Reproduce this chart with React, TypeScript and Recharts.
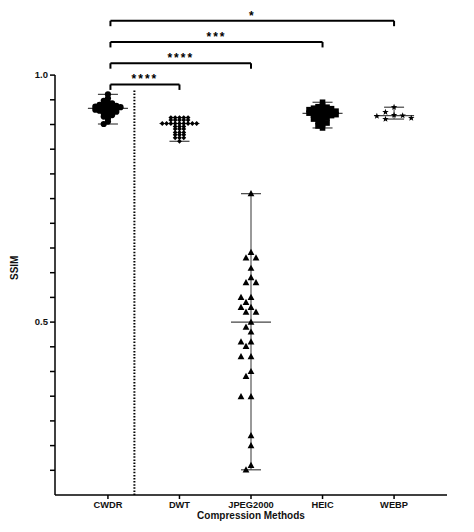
import {
  Label,
  ReferenceDot,
  ReferenceLine,
  Scatter,
  ScatterChart,
  XAxis,
  YAxis,
} from "recharts";

const categories = ["CWDR", "DWT", "JPEG2000", "HEIC", "WEBP"];

// SSIM per image
const cwdr = [
  0.961, 0.953, 0.948, 0.945, 0.943, 0.941, 0.94, 0.939, 0.938, 0.937, 0.936, 0.935, 0.935,
  0.934, 0.933, 0.932, 0.931, 0.93, 0.929, 0.928, 0.927, 0.926, 0.925, 0.923, 0.921, 0.919,
  0.916, 0.912, 0.906, 0.901,
];
const dwt = [
  0.914, 0.914, 0.914, 0.914, 0.914, 0.909, 0.909, 0.909, 0.909, 0.909, 0.902, 0.902, 0.902,
  0.902, 0.902, 0.902, 0.902, 0.902, 0.902, 0.896, 0.896, 0.896, 0.891, 0.891, 0.891, 0.884,
  0.884, 0.884, 0.879, 0.879, 0.879, 0.873, 0.873, 0.873, 0.866,
];
const jpeg2000 = [
  0.76, 0.641, 0.63, 0.63, 0.609, 0.59, 0.58, 0.58, 0.55, 0.55, 0.54, 0.53, 0.53, 0.52, 0.52,
  0.5, 0.49, 0.48, 0.46, 0.46, 0.451, 0.43, 0.43, 0.4, 0.39, 0.349, 0.349, 0.27, 0.25, 0.21,
  0.201,
];
const heic = [
  0.945, 0.938, 0.936, 0.935, 0.933, 0.932, 0.931, 0.93, 0.929, 0.928, 0.927, 0.926, 0.925,
  0.924, 0.923, 0.922, 0.921, 0.92, 0.919, 0.918, 0.917, 0.915, 0.913, 0.911, 0.909, 0.906,
  0.903, 0.9, 0.897, 0.893,
];
const webp = [0.935, 0.925, 0.919, 0.918, 0.917, 0.913, 0.911];

const yTicks = [
  0.2, 0.25, 0.3, 0.35, 0.4, 0.45, 0.5, 0.55, 0.6, 0.65, 0.7, 0.75, 0.8, 0.85, 0.9, 0.95, 1.0,
];
const yLabelled = [0.5, 1.0];

// significance brackets, all against CWDR
const bracketTargets = [1, 2, 3, 4];
const bracketStars = ["****", "****", "***", "*"];

const W = 474;
const H = 532;
const X_DOMAIN: [number, number] = [-0.74, 4.74];
const Y_DOMAIN: [number, number] = [0.15, 1.15];
const X_PX = 392 / (X_DOMAIN[1] - X_DOMAIN[0]);
const Y_PX = 494 / (Y_DOMAIN[1] - Y_DOMAIN[0]);
const FONT = "'Liberation Sans', Arial, sans-serif";

type Kind = "circle" | "diamond" | "triangle" | "square" | "star";

const groups: { values: number[]; kind: Kind; step: number; minDist: number }[] = [
  { values: cwdr, kind: "circle", step: 4.2, minDist: 2.9 },
  { values: dwt, kind: "diamond", step: 4.3, minDist: 2.2 },
  { values: jpeg2000, kind: "triangle", step: 5, minDist: 6 },
  { values: heic, kind: "square", step: 4.5, minDist: 3.2 },
  { values: webp, kind: "star", step: 8.6, minDist: 6 },
];

// simple beeswarm: each point takes the nearest free horizontal slot
function swarm(values: number[], center: number, step: number, minDist: number) {
  const placed: { dx: number; y: number }[] = [];
  const out: { x: number; y: number }[] = [];
  [...values]
    .sort((a, b) => b - a)
    .forEach((v) => {
      const y = v * Y_PX;
      for (let i = 0; i < 40; i++) {
        const k = i === 0 ? 0 : i % 2 === 1 ? -(i + 1) / 2 : i / 2;
        const dx = k * step;
        const free = placed.every((p) => (p.dx - dx) ** 2 + (p.y - y) ** 2 >= minDist ** 2);
        if (free) {
          placed.push({ dx, y });
          out.push({ x: center + dx / X_PX, y: v });
          break;
        }
      }
    });
  return out;
}

function median(values: number[]) {
  const s = [...values].sort((a, b) => a - b);
  const m = Math.floor(s.length / 2);
  return s.length % 2 ? s[m] : (s[m - 1] + s[m]) / 2;
}

function marker(kind: Kind) {
  return (props: any) => {
    const { cx, cy } = props;
    if (cx == null || cy == null) return <g />;
    if (kind === "circle") return <circle cx={cx} cy={cy} r={3.1} fill="#000" />;
    if (kind === "diamond")
      return (
        <polygon
          points={`${cx},${cy - 2.4} ${cx + 2.4},${cy} ${cx},${cy + 2.4} ${cx - 2.4},${cy}`}
          fill="#000"
        />
      );
    if (kind === "triangle")
      return (
        <polygon
          points={`${cx},${cy - 3.6} ${cx + 3.4},${cy + 2.6} ${cx - 3.4},${cy + 2.6}`}
          fill="#000"
        />
      );
    if (kind === "square")
      return <rect x={cx - 2.8} y={cy - 2.8} width={5.6} height={5.6} fill="#000" />;
    const pts: string[] = [];
    for (let i = 0; i < 10; i++) {
      const r = i % 2 ? 1.4 : 3.4;
      const a = (Math.PI / 5) * i - Math.PI / 2;
      pts.push(`${cx + r * Math.cos(a)},${cy + r * Math.sin(a)}`);
    }
    return <polygon points={pts.join(" ")} fill="#000" />;
  };
}

const CAP = 0.14;
const MED = 0.28;

export default function App() {
  const bracketBase = 0.981;
  const bracketGap = 0.043;
  const bracketStart = 0.035;

  return (
    <div style={{ position: "absolute", left: 0, top: 0, width: W, height: H, background: "#fff", fontFamily: FONT }}>
      <ScatterChart width={W} height={H} margin={{ top: 1, right: 27, bottom: 0, left: 0 }}>
        <XAxis
          type="number"
          dataKey="x"
          domain={X_DOMAIN}
          ticks={[0, 1, 2, 3, 4]}
          interval={0}
          tickFormatter={(v: number) => categories[Math.round(v)] ?? ""}
          tick={{ fontSize: 9.3, fontWeight: 700, fill: "#111" }}
          tickSize={4}
          tickMargin={2}
          height={37}
          stroke="#000"
          strokeWidth={1.5}
          allowDataOverflow
        >
          <Label
            value="Compression Methods"
            position="insideBottom"
            offset={13}
            fontSize={10}
            fontWeight={700}
            fill="#111"
          />
        </XAxis>
        <YAxis
          type="number"
          dataKey="y"
          domain={Y_DOMAIN}
          ticks={yTicks}
          interval={0}
          tickFormatter={(v: number) => (yLabelled.includes(v) ? v.toFixed(1) : "")}
          tick={{ fontSize: 9.5, fontWeight: 700, fill: "#111" }}
          tickSize={5}
          tickMargin={2}
          axisLine={false}
          stroke="#000"
          strokeWidth={1.5}
          width={55}
          allowDataOverflow
          label={(p: any) => {
            const vb = p.viewBox || { x: 0, y: 1, height: 494 };
            const x = vb.x + 15;
            const y = vb.y + vb.height * 0.54;
            return (
              <text
                x={x}
                y={y}
                transform={`rotate(-90 ${x} ${y})`}
                textAnchor="middle"
                dominantBaseline="central"
                fontSize={10}
                fontWeight={700}
                fill="#111"
              >
                SSIM
              </text>
            );
          }}
        />

        {/* y axis line, only up to 1.0 */}
        <ReferenceLine
          segment={[
            { x: X_DOMAIN[0], y: Y_DOMAIN[0] },
            { x: X_DOMAIN[0], y: 1.0 },
          ]}
          stroke="#000"
          strokeWidth={1.5}
          ifOverflow="visible"
        />

        {/* dotted divider after the proposed method */}
        <ReferenceLine
          segment={[
            { x: 0.37, y: Y_DOMAIN[0] },
            { x: 0.37, y: 0.97 },
          ]}
          stroke="#000"
          strokeWidth={2}
          strokeDasharray="1.5 1.6"
          ifOverflow="visible"
        />

        {/* range bars + median */}
        {groups.map((g, i) => {
          const lo = Math.min(...g.values);
          const hi = Math.max(...g.values);
          const md = median(g.values);
          return [
            <ReferenceLine
              key={`v${i}`}
              segment={[{ x: i, y: lo }, { x: i, y: hi }]}
              stroke="#555"
              strokeWidth={1.2}
              ifOverflow="visible"
            />,
            <ReferenceLine
              key={`lo${i}`}
              segment={[{ x: i - CAP, y: lo }, { x: i + CAP, y: lo }]}
              stroke="#444"
              strokeWidth={1.2}
              ifOverflow="visible"
            />,
            <ReferenceLine
              key={`hi${i}`}
              segment={[{ x: i - CAP, y: hi }, { x: i + CAP, y: hi }]}
              stroke="#444"
              strokeWidth={1.2}
              ifOverflow="visible"
            />,
            <ReferenceLine
              key={`md${i}`}
              segment={[{ x: i - MED, y: md }, { x: i + MED, y: md }]}
              stroke="#444"
              strokeWidth={1.2}
              ifOverflow="visible"
            />,
          ];
        })}

        {groups.map((g, i) => (
          <Scatter
            key={categories[i]}
            name={categories[i]}
            data={swarm(g.values, i, g.step, g.minDist)}
            shape={marker(g.kind)}
            isAnimationActive={false}
          />
        ))}

        {/* significance brackets */}
        {bracketTargets.map((t, lvl) => {
          const y = bracketBase + lvl * bracketGap;
          const leg = 0.011;
          return [
            <ReferenceLine
              key={`b${lvl}`}
              segment={[{ x: bracketStart, y }, { x: t, y }]}
              stroke="#000"
              strokeWidth={2}
              ifOverflow="visible"
            />,
            <ReferenceLine
              key={`bl${lvl}`}
              segment={[{ x: bracketStart, y }, { x: bracketStart, y: y - leg }]}
              stroke="#000"
              strokeWidth={2}
              ifOverflow="visible"
            />,
            <ReferenceLine
              key={`br${lvl}`}
              segment={[{ x: t, y }, { x: t, y: y - leg }]}
              stroke="#000"
              strokeWidth={2}
              ifOverflow="visible"
            />,
            <ReferenceDot
              key={`s${lvl}`}
              x={(bracketStart + t) / 2}
              y={y}
              r={0}
              fill="none"
              stroke="none"
              ifOverflow="visible"
              label={{
                value: bracketStars[lvl],
                position: "top",
                offset: 1,
                fontSize: 12,
                fontWeight: 700,
                fill: "#000",
                letterSpacing: 2,
              }}
            />,
          ];
        })}
      </ScatterChart>
    </div>
  );
}
